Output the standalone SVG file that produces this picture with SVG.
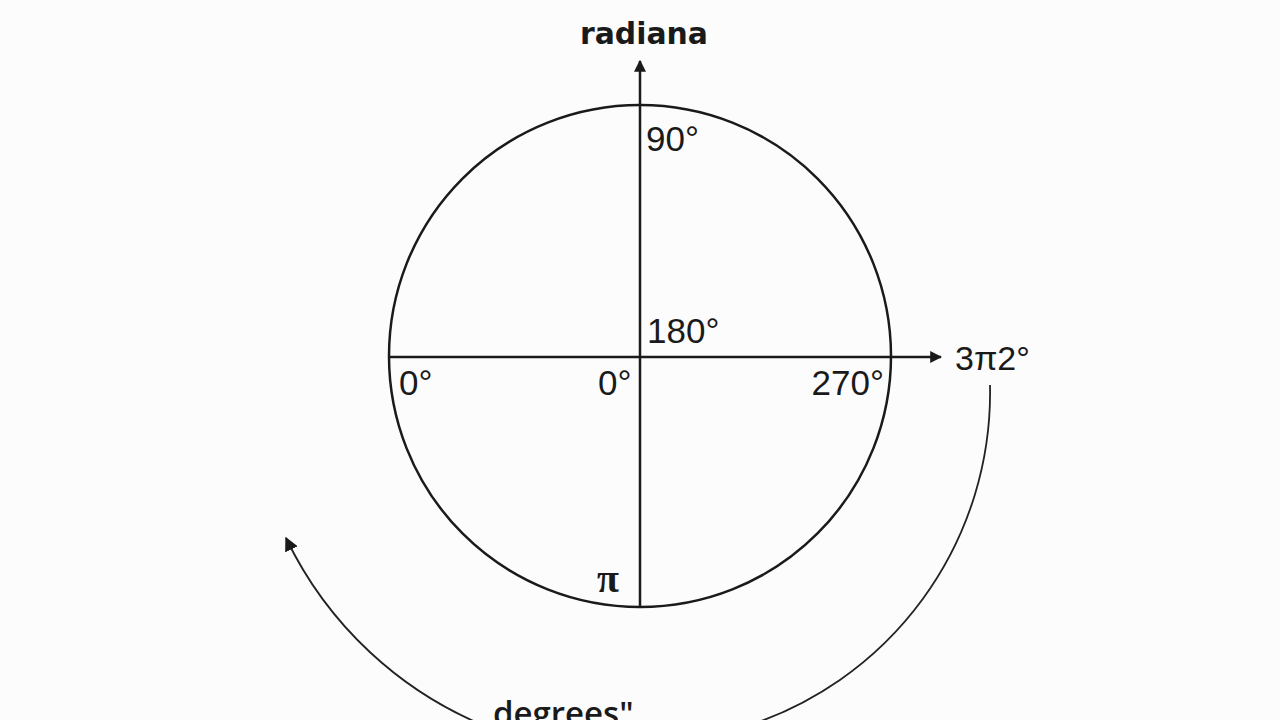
<svg xmlns="http://www.w3.org/2000/svg" width="1280" height="720" viewBox="0 0 1280 720">
<defs>
<style>
.ln{fill:none;stroke:#1a1a1a;stroke-width:2.5}
.arc{fill:none;stroke:#222;stroke-width:1.8}
.lbl{font-family:"Liberation Sans",Arial,sans-serif;font-size:35px;fill:#1a1a1a}
</style>
<marker id="ah" viewBox="0 0 10 10" refX="9" refY="5" markerWidth="12" markerHeight="12" markerUnits="userSpaceOnUse" orient="auto">
<path d="M0,0 L10,5 L0,10 z" fill="#1a1a1a"/>
</marker>
<marker id="ah2" viewBox="0 0 10 10" refX="9" refY="5" markerWidth="14" markerHeight="14" markerUnits="userSpaceOnUse" orient="auto">
<path d="M0,0 L10,5 L0,10 z" fill="#1a1a1a"/>
</marker>
</defs>
<rect width="1280" height="720" fill="#fcfcfc"/>
<g id="circle">
<circle class="ln" cx="640" cy="356" r="251"/>
</g>
<g id="connectors">
<line class="ln" x1="390" y1="357" x2="941" y2="357" marker-end="url(#ah)"/>
<line class="ln" x1="640" y1="607" x2="640" y2="61" marker-end="url(#ah)"/>
<path class="arc" d="M 990 385 A 350 350 0 0 1 740 728"/>
<path class="arc" d="M 490 728 A 382 382 0 0 1 286 538" marker-end="url(#ah2)"/>
</g>
<g id="labels">
<text x="580" y="44" textLength="128" lengthAdjust="spacingAndGlyphs" style="font-family:'DejaVu Sans',sans-serif;font-size:30px;font-weight:bold;fill:#1a1a1a">radiana</text>
<text class="lbl" x="646" y="151">90°</text>
<text class="lbl" x="647" y="343">180°</text>
<text class="lbl" x="399" y="395">0°</text>
<text class="lbl" x="598" y="395">0°</text>
<text class="lbl" x="884" y="395" text-anchor="end">270°</text>
<text class="lbl" x="955" y="370" style="font-size:34px">3π2°</text>
<text x="597" y="592" style="font-family:'Liberation Serif',serif;font-size:40px;font-weight:bold;fill:#1a1a1a">π</text>
<text class="lbl" x="493" y="725" style="font-family:'Open Sans',sans-serif;font-size:33px;font-weight:600">degrees"</text>
</g>
</svg>
